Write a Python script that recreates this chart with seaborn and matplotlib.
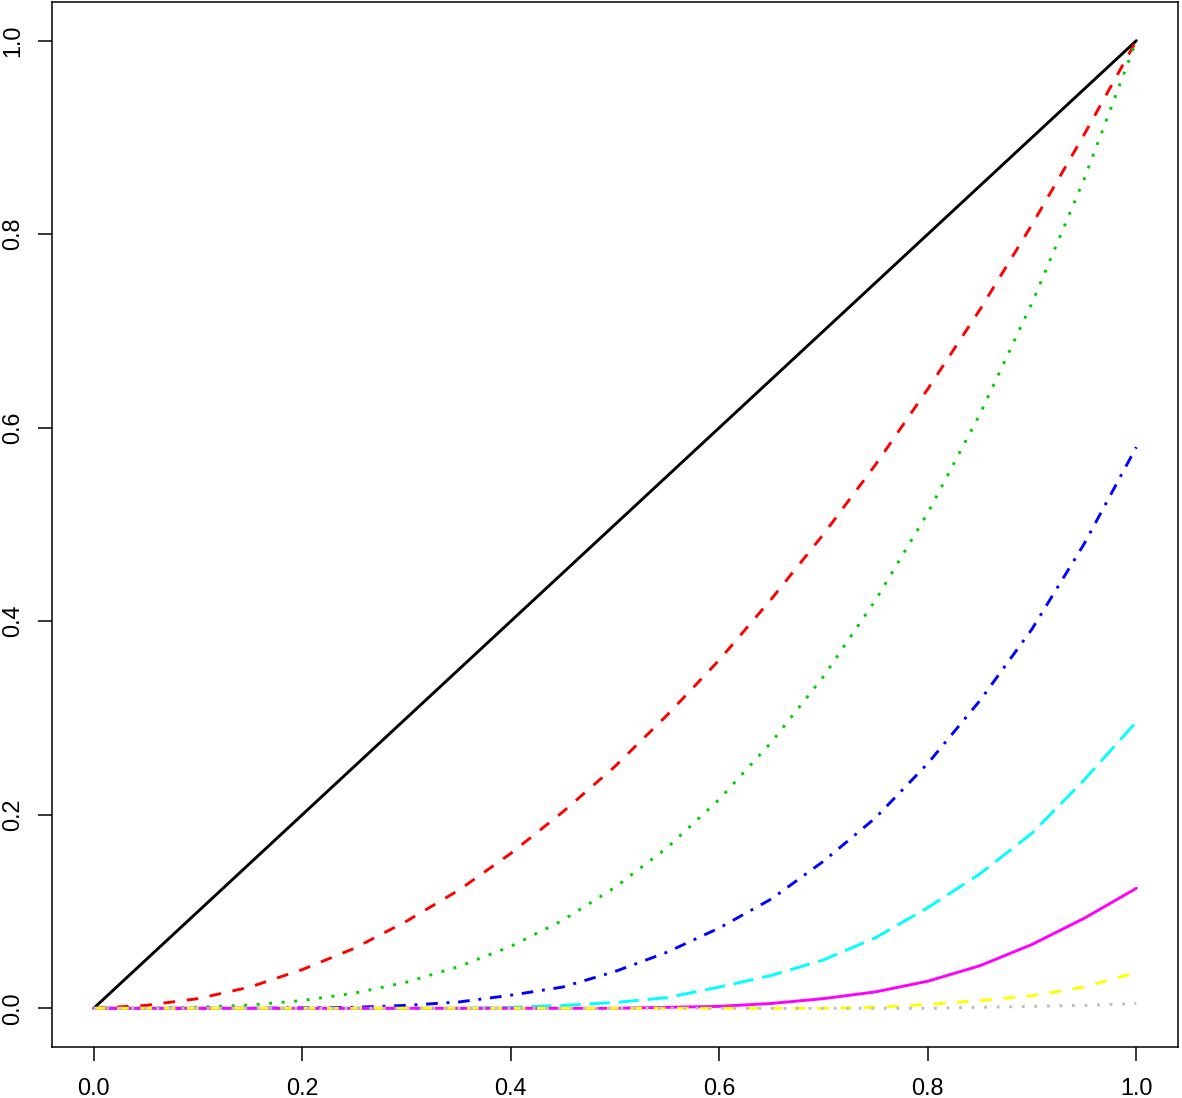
import numpy as np
import pandas as pd
import matplotlib
matplotlib.use("Agg")
import matplotlib.pyplot as plt
import seaborn as sns

x_vals = [0.00, 0.05, 0.10, 0.15, 0.20, 0.25, 0.30, 0.35, 0.40, 0.45, 0.50,
          0.55, 0.60, 0.65, 0.70, 0.75, 0.80, 0.85, 0.90, 0.95, 1.00]

black = [0.00, 0.05, 0.10, 0.15, 0.20, 0.25, 0.30, 0.35, 0.40, 0.45, 0.50,
         0.55, 0.60, 0.65, 0.70, 0.75, 0.80, 0.85, 0.90, 0.95, 1.00]
red = [0.0, 0.003, 0.010, 0.022, 0.040, 0.062, 0.090, 0.122, 0.160, 0.203, 0.250,
       0.303, 0.360, 0.423, 0.490, 0.562, 0.640, 0.722, 0.810, 0.903, 1.000]
green = [0.0, 0.0001, 0.001, 0.0034, 0.008, 0.0156, 0.027, 0.043, 0.064, 0.091, 0.125,
         0.166, 0.216, 0.275, 0.343, 0.422, 0.512, 0.614, 0.729, 0.857, 1.000]
blue = [0.0, 0.0, 0.0, 0.0, 0.0005, 0.001, 0.003, 0.0065, 0.0135, 0.022, 0.038,
        0.058, 0.083, 0.113, 0.152, 0.197, 0.253, 0.318, 0.392, 0.480, 0.580]
cyan = [0.0, 0.0, 0.0, 0.0, 0.0, 0.0, 0.0, 0.0, 0.001, 0.003, 0.006,
        0.011, 0.022, 0.034, 0.050, 0.073, 0.104, 0.139, 0.181, 0.236, 0.296]
magenta = [0.0, 0.0, 0.0, 0.0, 0.0, 0.0, 0.0, 0.0, 0.0, 0.0, 0.0,
           0.001, 0.002, 0.005, 0.010, 0.017, 0.028, 0.044, 0.066, 0.093, 0.124]
yellow = [0.0, 0.0, 0.0, 0.0, 0.0, 0.0, 0.0, 0.0, 0.0, 0.0, 0.0,
          0.0, 0.0, 0.0, 0.0, 0.001, 0.004, 0.008, 0.013, 0.022, 0.037]
gray = [0.0, 0.0, 0.0, 0.0, 0.0, 0.0, 0.0, 0.0, 0.0, 0.0, 0.0,
        0.0, 0.0, 0.0, 0.0, 0.0, 0.0, 0.001, 0.002, 0.003, 0.005]

tick_vals = [0.0, 0.2, 0.4, 0.6, 0.8, 1.0]
tick_labels = ["0.0", "0.2", "0.4", "0.6", "0.8", "1.0"]

sns.set_style("ticks")
plt.rcParams['font.family'] = ['Liberation Sans', 'DejaVu Sans']

# R default palette with matplot's recycled line types
series = [
    (black, "black", "-"),
    (red, "#FF0000", (0, (4, 4))),
    (green, "#00CD00", (0, (1.0, 3.3))),
    (blue, "#0000FF", (0, (1.0, 3, 4, 3))),
    (cyan, "#00FFFF", (0, (7, 3))),
    (magenta, "#FF00FF", "-"),
    (yellow, "#FFFF00", (0, (4, 4))),
    (gray, "#BEBEBE", (0, (1.0, 3.3))),
]

fig = plt.figure(figsize=(11.82, 10.98), dpi=100)
ax = fig.add_axes([52 / 1182, 51 / 1098, 1126 / 1182, 1045 / 1098])

for vals, col, ls in series:
    sns.lineplot(x=x_vals, y=vals, color=col, linestyle=ls, linewidth=2.1, ax=ax)

ax.set_xlim(-0.04, 1.04)
ax.set_ylim(-0.04, 1.04)
ax.set_xticks(tick_vals)
ax.set_xticklabels(tick_labels)
ax.set_yticks(tick_vals)
ax.set_yticklabels(tick_labels, rotation=90, va="center")

for sp in ax.spines.values():
    sp.set_visible(True)
    sp.set_color("black")
    sp.set_linewidth(1.1)

ax.tick_params(axis="both", direction="out", length=9.8, width=1.1,
               labelsize=16.8, colors="black")
ax.tick_params(axis="x", pad=11.5)
ax.tick_params(axis="y", pad=10)
ax.set_xlabel("")
ax.set_ylabel("")

fig.savefig("out.png", dpi=100)
